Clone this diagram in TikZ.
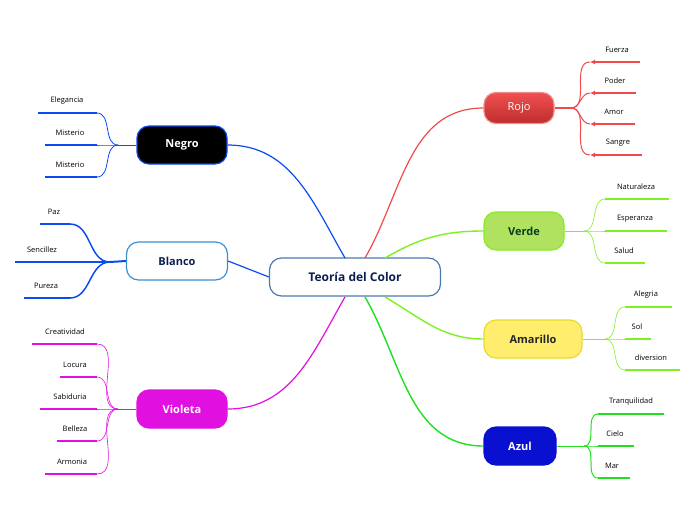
\documentclass[tikz,border=0pt]{standalone}
\usepackage{fontspec}
\setmainfont{Open Sans}
\newfontfamily\serifb{Noto Sans}
\usetikzlibrary{arrows.meta}
\definecolor{cblue}{HTML}{0A4CF0}
\definecolor{cmag}{HTML}{E010E0}
\definecolor{cred}{HTML}{F04A4A}
\definecolor{clime}{HTML}{7FF020}
\definecolor{cgreen}{HTML}{20E020}
\definecolor{cnavy}{HTML}{0A2050}
\tikzset{
 main/.style={rounded corners=12pt, line width=1.2pt, minimum height=38pt, font=\fontsize{11}{13}\selectfont\bfseries, inner xsep=4pt},
 lbl/.style={font=\fontsize{7.5}{9}\selectfont, inner sep=1pt},
 leaf/.style={line width=2pt},
 br/.style={line width=0.8pt},
}
\begin{document}
\begin{tikzpicture}[x=1pt,y=-1pt]
\useasboundingbox (0,0) rectangle (696,520);
% main nodes
\node[main, draw={rgb,255:red,74;green,122;blue,176}, fill=white, text=cnavy, minimum width=171pt, font=\fontsize{12}{14}\selectfont\bfseries] (c) at (355,277) {Teoría del Color};
\node[main, draw=cblue, fill=black, text=white, minimum width=90pt] (negro) at (182,145) {Negro};
\node[main, draw={rgb,255:red,61;green,143;blue,208}, fill=white, text=cnavy, minimum width=101pt] (blanco) at (177,261) {Blanco};
\node[main, draw=cmag, fill=cmag, text=white, minimum width=90pt] (violeta) at (182,409) {Violeta};
\node[main, draw={rgb,255:red,240;green,140;blue,140}, top color={rgb,255:red,240;green,80;blue,80}, bottom color={rgb,255:red,190;green,45;blue,45}, text=white, minimum width=70pt, minimum height=31pt, font=\fontsize{11}{13}\selectfont\rmfamily] (rojo) at (519,108) {Rojo};
\node[main, draw=clime, fill={rgb,255:red,176;green,226;blue,96}, text={rgb,255:red,10;green,60;blue,30}, minimum width=80pt] (verde) at (524,231) {Verde};
\node[main, draw={rgb,255:red,230;green,220;blue,40}, fill={rgb,255:red,255;green,238;blue,110}, text=black!85, minimum width=98pt] (amarillo) at (533,339) {Amarillo};
\node[main, draw={rgb,255:red,10;green,16;blue,208}, fill={rgb,255:red,10;green,16;blue,208}, text=white, minimum width=72pt] (azul) at (520,446) {Azul};
% center connectors
\coordinate (cn) at (345,258); \coordinate (cs) at (345,297);
\coordinate (cne) at (365,258); \coordinate (cse) at (365,297);
\coordinate (cne2) at (385,258); \coordinate (cse2) at (385,297);
\draw[cblue, br, line width=1.2pt] (cn) to[out=120,in=0] (negro.east);
\draw[cblue, line width=1.2pt] (c.west) -- (blanco.east);
\draw[cmag, line width=1.2pt] (cs) to[out=240,in=0] (violeta.east);
\draw[cred, line width=1.2pt] (cne) to[out=60,in=180] (rojo.west);
\draw[clime, line width=1.4pt] (cne2) to[out=30,in=180] (verde.west);
\draw[clime, line width=1.4pt] (cse2) to[out=-30,in=180] (amarillo.west);
\draw[cgreen, line width=1.4pt] (cse) to[out=-60,in=180] (azul.west);
% Negro leaves
\coordinate (jn) at (118,145);
\draw[cblue, line width=1pt] (negro.west) -- (jn);
\foreach \y/\xs/\tx/\t [count=\i] in {113/38/67/Elegancia,145/45/70/Misterio,177/45/70/Misterio}{
 \node[lbl] (n\i) at (\tx,\y-12) {\t};
 \coordinate (ns\i) at (97,\y);
 \draw[cblue, br] (jn) to[out=180,in=0] (ns\i);
 \draw[cblue, leaf] (ns\i) -- (\xs,\y);
}
% Blanco leaves
\coordinate (jb) at (110,262);
\draw[cblue, line width=2pt] (blanco.west) -- (jb);
\foreach \y/\xs/\tx/\t [count=\i] in {224/40/54/Paz,262/15/42/Sencillez,298/24/46/Pureza}{
 \node[lbl] (b\i) at (\tx,\y-12) {\t};
 \coordinate (bs\i) at (70,\y);
 \draw[cblue, line width=1.5pt] (jb) to[out=180,in=0] (bs\i);
 \draw[cblue, leaf] (bs\i) -- (\xs,\y);
}
% Violeta leaves
\coordinate (jv) at (118,409);
\draw[cmag, line width=0.8pt] (violeta.west) -- (jv);
\foreach \y/\xs/\tx/\t [count=\i] in {344/32/65/Creatividad,377/60/75/Locura,409/40/70/Sabiduria,441/57/75/Belleza,474/45/72/Armonia}{
 \node[lbl] (v\i) at (\tx,\y-12) {\t};
 \coordinate (vs\i) at (97,\y);
 \draw[cmag, line width=0.6pt] (jv) to[out=180,in=0] (vs\i);
 \draw[cmag, leaf] (vs\i) -- (\xs,\y);
}
% Rojo leaves
\coordinate (jr) at (571,108);
\draw[cred, line width=2pt] (rojo.east) -- (jr);
\foreach \y/\xe/\tx/\t [count=\i] in {62/640/617/Fuerza,93/636/615/Poder,124/635/614/Amor,155/642/618/Sangre}{
 \node[lbl] (r\i) at (\tx,\y-12) {\t};
 \coordinate (rs\i) at (590,\y);
 \draw[cred, line width=1pt] (jr) to[out=0,in=180] (rs\i);
 \draw[cred, leaf, -{Latex[length=5pt,width=5pt]}] (\xe,\y) -- (rs\i);
}
% Verde leaves
\coordinate (jg) at (584,231);
\draw[clime, line width=0.8pt] (verde.east) -- (jg);
\foreach \y/\xe/\tx/\t [count=\i] in {199/669/636/Naturaleza,231/667/635/Esperanza,263/645/624/Salud}{
 \node[lbl] (g\i) at (\tx,\y-12) {\t};
 \coordinate (gs\i) at (605,\y);
 \draw[clime, line width=0.6pt] (jg) to[out=0,in=180] (gs\i);
 \draw[clime, leaf] (gs\i) -- (\xe,\y);
}
% Amarillo leaves
\coordinate (ja) at (605,339);
\draw[clime, line width=0.6pt] (amarillo.east) -- (ja);
\foreach \y/\xe/\tx/\t [count=\i] in {307/672/646/Alegria,339/651/637/Sol,370/680/651/diversion}{
 \node[lbl] (a\i) at (\tx,\y-12) {\t};
 \coordinate (as\i) at (625,\y);
 \draw[clime, line width=0.6pt] (ja) to[out=0,in=180] (as\i);
 \draw[clime, leaf] (as\i) -- (\xe,\y);
}
% Azul leaves
\coordinate (jz) at (584,446);
\draw[cgreen, line width=1pt] (azul.east) -- (jz);
\foreach \y/\xe/\tx/\t [count=\i] in {414/664/631/Tranquilidad,446/634/615/Cielo,478/630/612/Mar}{
 \node[lbl] (z\i) at (\tx,\y-12) {\t};
 \coordinate (zs\i) at (598,\y);
 \draw[cgreen, line width=1pt] (jz) to[out=0,in=180] (zs\i);
 \draw[cgreen, leaf] (zs\i) -- (\xe,\y);
}
\end{tikzpicture}
\end{document}
